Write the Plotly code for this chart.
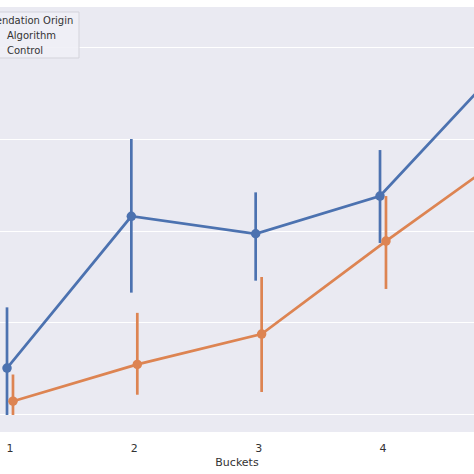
import plotly.graph_objects as go

buckets = [1, 2, 3, 4, 5]
tick_labels = ["1", "2", "3", "4", "5"]
series_names = ["Algorithm", "Control"]

algo_mean = [0.51, 2.16, 1.97, 2.38, 3.83]
algo_hi = [1.17, 3.00, 2.42, 2.88, 4.30]
algo_lo = [0.00, 1.33, 1.46, 1.87, 3.35]

ctrl_mean = [0.15, 0.55, 0.88, 1.89, 2.86]
ctrl_hi = [0.44, 1.11, 1.50, 2.38, 3.30]
ctrl_lo = [0.00, 0.22, 0.25, 1.37, 2.40]

colors = ["#4C72B0", "#DD8452"]
dodge = 0.024

fig = go.Figure()
for name, mean, hi, lo, col, off in [
    (series_names[0], algo_mean, algo_hi, algo_lo, colors[0], -dodge),
    (series_names[1], ctrl_mean, ctrl_hi, ctrl_lo, colors[1], dodge),
]:
    fig.add_trace(go.Scatter(
        x=[b + off for b in buckets], y=mean, name=name,
        mode="lines+markers",
        line=dict(color=col, width=2.7),
        marker=dict(color=col, size=9.5),
        error_y=dict(type="data", symmetric=False,
                     array=[h - m for h, m in zip(hi, mean)],
                     arrayminus=[m - l for m, l in zip(mean, lo)],
                     color=col, thickness=2.7, width=0),
        cliponaxis=True,
        showlegend=False,
    ))

fig.update_layout(
    width=474, height=474,
    margin=dict(l=0, r=0, t=7, b=42),
    paper_bgcolor="white",
    plot_bgcolor="#EAEAF2",
    font=dict(family="DejaVu Sans", size=11, color="#333333"),
    xaxis=dict(range=[0.9196, 4.732], tickvals=buckets, ticktext=tick_labels,
               showgrid=False, zeroline=False, showline=False, ticks="",
               ticklabelstandoff=8,
               title=dict(text="Buckets", standoff=4, font=dict(size=11))),
    yaxis=dict(range=[-0.185, 4.435], tickvals=[0, 1, 2, 3, 4],
               showticklabels=False, showgrid=True, gridcolor="white",
               gridwidth=1.2, zeroline=False, showline=False, ticks=""),
    showlegend=False,
)

# legend box (partially off the left edge, as in the reference)
fig.add_shape(type="rect", xref="paper", yref="paper",
              x0=-20 / 474, x1=79 / 474, y0=(432 - 58) / 425, y1=(432 - 12) / 425,
              fillcolor="rgba(240,240,246,0.9)", line=dict(color="#D3D3DB", width=1))

legend_texts = [("Recommendation Origin", 20, 75, "right"),
                (series_names[0], 35, 5, "left"),
                (series_names[1], 50, 5, "left")]
for txt, py, px, anchor in legend_texts:
    fig.add_annotation(text=txt, xref="paper", yref="paper",
                       x=px / 474, y=(432 - py) / 425, xanchor=anchor, yanchor="middle",
                       showarrow=False, font=dict(size=10, color="#333333"))

fig.write_html("out.html")
